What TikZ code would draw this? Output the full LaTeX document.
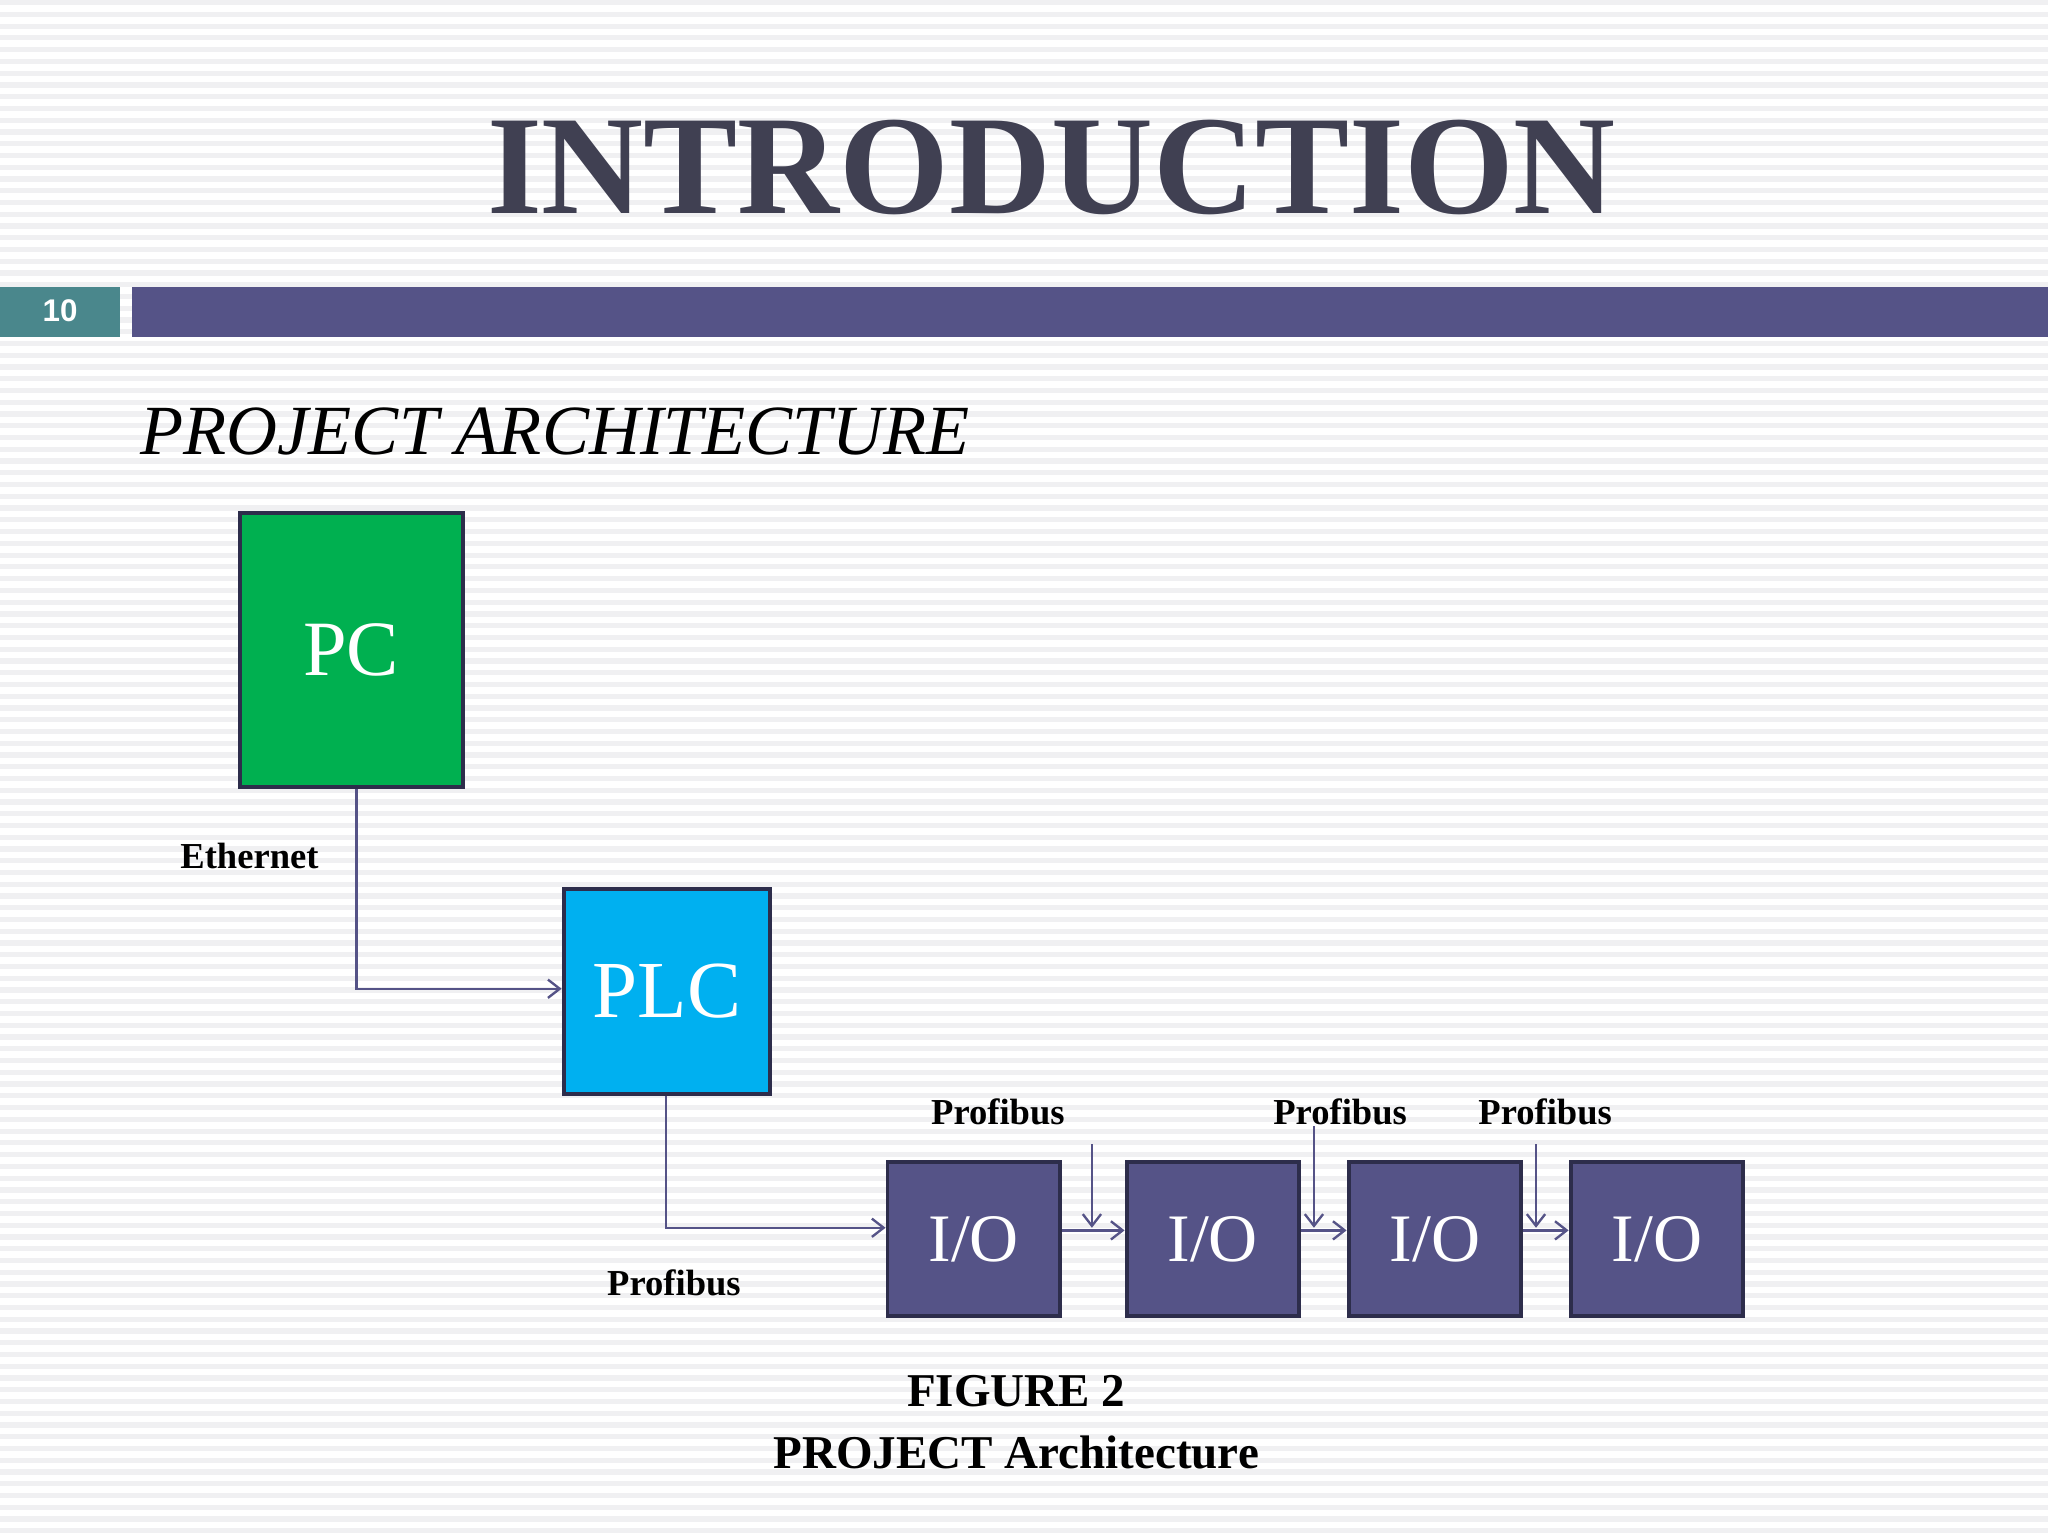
\documentclass[tikz,border=0pt]{standalone}
\usepackage{fontspec}
\setmainfont{Liberation Serif}
\newfontfamily\sansf{Liberation Sans}
\usetikzlibrary{arrows.meta}
\definecolor{ttl}{RGB}{64,64,82}
\definecolor{pur}{RGB}{85,83,135}
\definecolor{teal1}{RGB}{74,135,140}
\definecolor{pcg}{RGB}{0,176,80}
\definecolor{plcb}{RGB}{0,176,240}
\definecolor{edge}{RGB}{45,45,75}
\definecolor{stripe}{RGB}{240,240,242}
\begin{document}
\begin{tikzpicture}[x=1pt,y=-1pt,
  box/.style={draw=edge,line width=3pt,inner sep=0pt,anchor=north west,text=white},
  io/.style={box,fill=pur,minimum width=132pt,minimum height=118pt,font=\fontsize{52}{52}\selectfont},
  lbl/.style={font=\bfseries\fontsize{28}{28}\selectfont},
  con/.style={draw=pur,line width=1.8pt,-{Straight Barb[length=9pt,width=14pt]}}]
\fill[white] (0,0) rectangle (1568,1176);
\foreach \y in {0,9,...,1176} \fill[stripe] (0,\y) rectangle (1568,\y+4);
\useasboundingbox (0,0) rectangle (1568,1176);
\node[text=ttl,font=\bfseries\fontsize{108}{108}\selectfont] (title) at (805,128) {INTRODUCTION};
\fill[teal1] (0,220) rectangle (92,258);
\node[text=white,font=\sansf\bfseries\fontsize{24}{24}\selectfont] (num) at (46,238) {10};
\fill[pur] (101,220) rectangle (1568,258);
\node[anchor=west,font=\itshape\fontsize{54}{54}\selectfont] (sub) at (104,330) {PROJECT ARCHITECTURE};
\node[box,fill=pcg,minimum width=171pt,minimum height=210pt,font=\fontsize{60}{60}\selectfont] (pc) at (182,391) {PC};
\node[box,fill=plcb,minimum width=158pt,minimum height=157pt,font=\fontsize{62}{62}\selectfont] (plc) at (430,679) {PLC};
\node[io] (io1) at (678,888) {I/O};
\node[io] (io2) at (861,888) {I/O};
\node[io,text depth=-22pt] (io3) at (1031,888) {I/O};
\node[io] (io4) at (1201,888) {I/O};
\coordinate (c1) at (273,757);
\coordinate (c2) at (510,940);
\draw[con] (pc.south -| c1) -- (c1) -- (plc.west |- c1);
\draw[con] (plc.south -| c2) -- (c2) -- (io1.west |- c2);
\draw[con] (io1.east |- 0,942) -- (io2.west |- 0,942);
\draw[con] (io2.east |- 0,942) -- (io3.west |- 0,942);
\draw[con] (io3.east |- 0,942) -- (io4.west |- 0,942);
\coordinate (t1) at (836,876); \coordinate (b1) at (836,940);
\coordinate (t2) at (1006,862); \coordinate (b2) at (1006,940);
\coordinate (t3) at (1176,876); \coordinate (b3) at (1176,940);
\draw[con] (t1) -- (b1); \draw[con] (t2) -- (b2); \draw[con] (t3) -- (b3);
\node[lbl] (eth) at (191,655) {Ethernet};
\node[lbl] (pb0) at (516,982) {Profibus};
\node[lbl] (pb1) at (764,851) {Profibus};
\node[lbl] (pb2) at (1026,851) {Profibus};
\node[lbl] (pb3) at (1183,851) {Profibus};
\node[font=\bfseries\fontsize{36}{36}\selectfont] (fig) at (778,1065) {FIGURE 2};
\node[font=\bfseries\fontsize{36}{36}\selectfont] (cap) at (778,1112) {PROJECT Architecture};
\end{tikzpicture}
\end{document}
